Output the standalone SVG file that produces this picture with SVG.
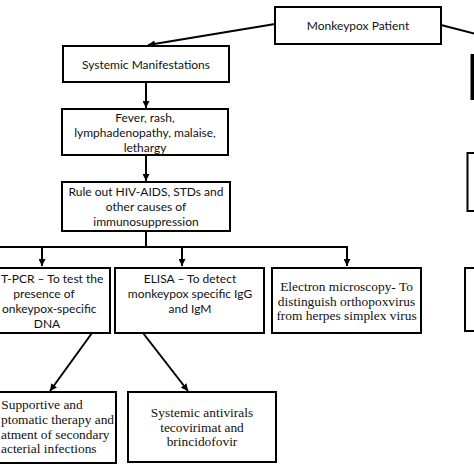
<svg xmlns="http://www.w3.org/2000/svg" width="474" height="474" viewBox="0 0 474 474">
<style>
.box{fill:#fff;stroke:#000;stroke-width:2}
.ln{fill:none;stroke:#000;stroke-width:2}
.s{font-family:Lato,"Liberation Sans",sans-serif;font-size:12px;fill:#111}
.t{font-family:"Liberation Serif",serif;font-size:13.4px;fill:#111}
.m{text-anchor:middle}
.b{text-anchor:start}
</style>
<defs>
<marker id="ah" viewBox="0 0 10 10" refX="10" refY="5" markerWidth="3.5" markerHeight="3.5" orient="auto" markerUnits="strokeWidth">
<path d="M0,0 L10,5 L0,10 z" fill="#000"/>
</marker>
</defs>
<rect width="474" height="474" fill="#fff"/>
<g id="connectors">
<line class="ln" x1="275" y1="24" x2="148" y2="45" marker-end="url(#ah)"/>
<line class="ln" x1="441" y1="25" x2="476" y2="34"/>
<line class="ln" x1="146" y1="82" x2="146" y2="108" marker-end="url(#ah)"/>
<line class="ln" x1="146" y1="155" x2="146" y2="181" marker-end="url(#ah)"/>
<line class="ln" x1="146" y1="231" x2="146" y2="248"/>
<line class="ln" x1="-2" y1="247" x2="348" y2="247"/>
<line class="ln" x1="42" y1="246" x2="42" y2="266" marker-end="url(#ah)"/>
<line class="ln" x1="182" y1="246" x2="182" y2="266" marker-end="url(#ah)"/>
<line class="ln" x1="347" y1="246" x2="347" y2="266" marker-end="url(#ah)"/>
<line class="ln" x1="92" y1="333" x2="50" y2="391" marker-end="url(#ah)"/>
<line class="ln" x1="143" y1="333" x2="188" y2="391" marker-end="url(#ah)"/>
</g>
<g id="n-patient">
<rect class="box" x="275" y="7" width="166" height="37"/>
<text class="s m" x="358" y="30">Monkeypox Patient</text>
</g>
<g id="n-systemic">
<rect class="box" x="63" y="46" width="166" height="36"/>
<text class="s m" x="146" y="69">Systemic Manifestations</text>
</g>
<g id="n-fever">
<rect class="box" x="62" y="109" width="166" height="46"/>
<text class="s m" x="145" y="122">Fever, rash,</text>
<text class="s m" x="145" y="137">lymphadenopathy, malaise,</text>
<text class="s m" x="145" y="152">lethargy</text>
</g>
<g id="n-ruleout">
<rect class="box" x="62" y="182" width="168" height="49"/>
<text class="s m" x="146" y="196">Rule out HIV-AIDS, STDs and</text>
<text class="s m" x="146" y="211">other causes of</text>
<text class="s m" x="146" y="226">immunosuppression</text>
</g>
<g id="n-rtpcr">
<rect class="box" x="-10" y="268" width="120" height="65"/>
<text class="s b" x="1" y="283">T-PCR – To test the</text>
<text class="s m" x="44" y="298">presence of</text>
<text class="s b" x="2" y="313">onkeypox-specific</text>
<text class="s m" x="47" y="328">DNA</text>
</g>
<g id="n-elisa">
<rect class="box" x="115" y="268" width="149" height="65"/>
<text class="s m" x="190" y="283">ELISA – To detect</text>
<text class="s m" x="190" y="298">monkeypox specific IgG</text>
<text class="s m" x="190" y="313">and IgM</text>
</g>
<g id="n-electron">
<rect class="box" x="272" y="268" width="149" height="65"/>
<text class="t m" x="346.5" y="291">Electron microscopy- To</text>
<text class="t m" x="346.5" y="306">distinguish orthopoxvirus</text>
<text class="t m" x="346.5" y="320">from herpes simplex virus</text>
</g>
<g id="n-supportive">
<rect class="box" x="-10" y="392" width="126" height="71"/>
<text class="t m" x="42" y="409">Supportive and</text>
<text class="t b" x="1" y="424">ptomatic therapy and</text>
<text class="t b" x="1" y="439">atment of secondary</text>
<text class="t b" x="1" y="453">acterial infections</text>
</g>
<g id="n-antivirals">
<rect class="box" x="128" y="392" width="148" height="70"/>
<text class="t m" x="202" y="417">Systemic antivirals</text>
<text class="t m" x="202" y="432">tecovirimat and</text>
<text class="t m" x="202" y="446">brincidofovir</text>
</g>
<g id="n-right1">
<rect x="472.5" y="56" width="10" height="42" fill="none" stroke="#000" stroke-width="4"/>
</g>
<g id="n-right2">
<rect class="box" x="467.5" y="153" width="20" height="58"/>
</g>
<g id="n-right3">
<rect class="box" x="465" y="268" width="20" height="63"/>
</g>
</svg>
